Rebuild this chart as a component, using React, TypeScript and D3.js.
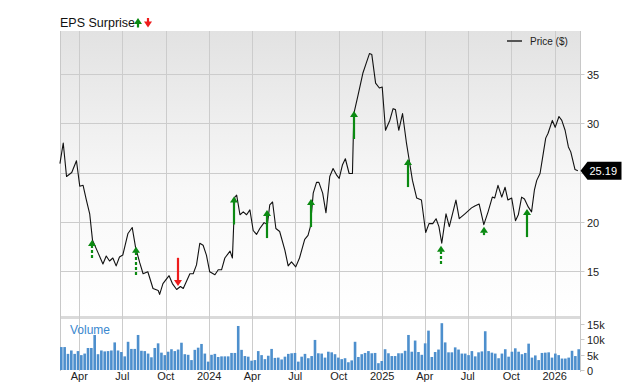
import React from "react";
import * as d3 from "d3";

const priceDates = [
  "2023-02-19","2023-02-26","2023-03-05","2023-03-16","2023-03-26","2023-04-02","2023-04-09","2023-04-16","2023-04-23","2023-04-29",
  "2023-05-11","2023-05-21","2023-05-28","2023-06-04","2023-06-11","2023-06-18","2023-06-25","2023-07-02","2023-07-13","2023-07-22",
  "2023-07-29","2023-08-07","2023-08-14","2023-08-24","2023-09-04","2023-09-15","2023-09-18","2023-09-25","2023-10-08","2023-10-15",
  "2023-10-24","2023-11-01","2023-11-07","2023-11-21","2023-11-28","2023-12-05","2023-12-12","2023-12-19","2023-12-26","2024-01-02",
  "2024-01-13","2024-01-20","2024-01-27","2024-02-03","2024-02-14","2024-02-19","2024-02-24","2024-02-28","2024-03-06","2024-03-13",
  "2024-03-20","2024-03-27","2024-04-03","2024-04-10","2024-04-17","2024-04-26","2024-05-03","2024-05-08","2024-05-14","2024-05-21",
  "2024-05-29","2024-06-09","2024-06-16","2024-06-23","2024-07-02","2024-07-10","2024-07-21","2024-07-28","2024-08-02","2024-08-08",
  "2024-08-15","2024-08-20","2024-08-28","2024-09-04","2024-09-12","2024-09-19","2024-09-27","2024-10-02","2024-10-09","2024-10-15",
  "2024-10-23","2024-10-30","2024-11-02","2024-11-11","2024-11-21","2024-11-28","2024-12-05","2024-12-10","2024-12-18","2024-12-26",
  "2025-01-01","2025-01-08","2025-01-17","2025-01-24","2025-01-29","2025-02-05","2025-02-13","2025-02-21","2025-02-27","2025-03-06",
  "2025-03-15","2025-03-25","2025-04-03","2025-04-10","2025-04-18","2025-04-25","2025-05-01","2025-05-07","2025-05-16","2025-05-23",
  "2025-06-06","2025-06-13","2025-06-25","2025-07-09","2025-07-16","2025-07-25","2025-08-04","2025-08-13","2025-08-22","2025-08-27",
  "2025-09-03","2025-09-11","2025-09-18","2025-09-24","2025-10-02","2025-10-10","2025-10-16","2025-10-23","2025-10-29","2025-11-06",
  "2025-11-13","2025-11-19","2025-11-24","2025-12-01","2025-12-08","2025-12-13","2025-12-18","2025-12-27","2026-01-02","2026-01-10",
  "2026-01-16","2026-01-23","2026-01-30","2026-02-04","2026-02-13","2026-02-19"
];
const priceValues = [
  25.9,28.0,24.6,25.0,26.2,23.6,23.7,22.2,20.8,18.1,
  16.8,15.7,16.5,16.0,16.3,15.5,16.4,16.6,18.8,19.4,
  17.4,15.8,14.7,14.9,13.2,13.0,12.6,13.7,14.5,13.7,
  13.1,13.4,13.2,14.7,14.7,15.6,17.8,17.6,16.6,14.9,
  14.6,15.1,15.1,16.3,17.0,16.3,22.5,22.7,20.7,21.0,
  20.7,21.2,19.1,18.7,19.3,19.9,19.7,21.7,22.0,19.3,
  19.0,17.1,15.5,15.9,15.4,16.3,18.2,18.6,19.5,22.9,
  24.0,24.0,22.9,20.9,24.6,25.4,24.7,24.4,25.8,26.4,
  24.9,24.9,31.0,32.9,35.1,36.1,37.1,37.0,34.1,33.6,
  33.7,29.3,30.3,31.5,31.4,29.3,31.0,28.1,26.3,24.2,
  22.4,22.2,18.9,19.8,19.8,20.3,19.5,17.8,20.8,19.5,
  22.2,20.3,20.8,21.4,21.6,21.8,19.7,21.0,22.5,22.4,
  23.7,22.5,23.5,22.2,22.4,20.1,20.7,22.5,22.3,21.5,
  21.0,23.2,24.2,24.9,27.0,28.5,29.0,30.3,29.6,30.7,
  30.3,29.3,27.6,27.1,25.3,25.19
];

// weekly volume, thousands
const volumeValues = [
  7.4,7.4,5.2,6.3,5.2,6.1,4.8,5.3,7.1,7.1,
  11.3,5.1,6.3,6.0,6.1,6.3,8.9,6.3,5.8,4.4,
  9.1,6.8,6.8,11.3,6.2,6.1,5.3,4.1,7.1,8.6,
  5.6,4.8,5.9,6.7,6.1,6.6,8.8,5.1,4.9,3.2,
  6.5,7.2,8.4,5.3,2.7,4.9,5.2,4.2,4.4,4.4,
  4.4,5.5,5.5,14.2,6.5,4.5,4.3,3.0,3.2,6.1,
  4.8,3.5,4.6,6.8,3.9,4.0,3.4,4.3,5.2,5.4,
  5.5,2.7,4.3,5.2,3.8,4.5,9.7,5.4,
  5.3,4.0,5.9,5.7,5.1,4.0,3.5,3.8,2.5,3.1,
  9.1,4.2,5.1,5.5,6.1,5.4,5.5,2.2,2.9,6.7,
  5.4,4.5,4.5,5.4,5.4,6.2,11.3,5.9,9.5,5.8,
  4.9,8.6,12.7,4.2,5.8,6.6,15.1,8.9,5.7,5.7,
  7.3,6.6,5.3,5.3,4.8,6.1,4.4,5.7,6.0,12.5,
  6.1,5.6,5.3,3.8,5.3,6.7,4.3,5.9,7.0,5.9,
  5.1,5.5,8.5,4.0,4.7,3.2,5.5,5.6,5.7,4.0,
  5.3,4.8,3.7,3.7,4.0,6.2,4.5,6.7
];

// EPS surprise arrows: date, base price, tip price, kind
const epsDates = ["2023-04-27","2023-07-29","2023-10-26","2024-02-23","2024-05-02","2024-08-03","2024-11-02","2025-02-24","2025-05-05","2025-08-04","2025-11-03"];
const epsFrom = [16.29,14.56,16.32,19.71,18.33,19.45,28.41,23.52,15.68,18.63,18.43];
const epsTo = [18.13,17.44,13.44,22.56,21.18,22.30,31.26,26.37,17.54,19.48,21.28];
const epsKind = ["beatDashed","beatDashed","miss","beat","beat","beat","beat","beat","beatDashed","beatDashed","beat"];

const xTickDates = ["2023-04-01","2023-07-01","2023-10-01","2024-01-01","2024-04-01","2024-07-01","2024-10-01","2025-01-01","2025-04-01","2025-07-01","2025-10-01","2026-01-01"];
const xTickLabels = ["Apr","Jul","Oct","2024","Apr","Jul","Oct","2025","Apr","Jul","Oct","2026"];
const priceTicks = [15, 20, 25, 30, 35];
const priceTickLabels = ["15", "20", "", "30", "35"];
const volumeTicks = [0, 5, 10, 15];
const volumeTickLabels = ["0", "5k", "10k", "15k"];
const lastPrice = 25.19;

const FONT = "'Liberation Sans', Arial, Helvetica, sans-serif";
const GREEN = "#0b8a12";
const RED = "#ee1c1c";

function Arrow({ x, y0, y1, color, dashed }: { x: number; y0: number; y1: number; color: string; dashed: boolean }) {
  const up = y1 < y0;
  const hh = 6;
  const hw = 4;
  const shaftEnd = up ? y1 + hh - 0.5 : y1 - hh + 0.5;
  return (
    <g>
      <line x1={x} x2={x} y1={y0} y2={shaftEnd} stroke={color} strokeWidth={2.2} strokeDasharray={dashed ? "3,2" : undefined} />
      <path d={up ? `M${x - hw},${y1 + hh}L${x},${y1}L${x + hw},${y1 + hh}Z` : `M${x - hw},${y1 - hh}L${x},${y1}L${x + hw},${y1 - hh}Z`} fill={color} />
    </g>
  );
}

export default function App() {
  const W = 640, H = 382;
  const left = 60.5, right = 580.5, top = 31, priceBottom = 316, volBottom = 370;
  const parse = d3.timeParse("%Y-%m-%d");
  const x = d3.scaleTime().domain([parse("2023-04-01")!, parse("2026-01-01")!]).range([79.3, 554.7]);
  const y = d3.scaleLinear().domain([10.4, 39.4]).range([priceBottom, top]);
  const yv = d3.scaleLinear().domain([0, 15]).range([volBottom, 323.5]);
  const xb = d3.scaleBand<number>().domain(volumeValues.map((_, i) => i)).range([60, 580]).paddingInner(0.22);

  const pts: [Date, number][] = priceDates.map((d, i) => [parse(d)!, priceValues[i]]);
  const line = d3.line<[Date, number]>().x((d) => x(d[0])).y((d) => y(d[1]));

  const ly = y(lastPrice);

  return (
    <svg width={W} height={H} style={{ position: "absolute", left: 0, top: 0, background: "#fff" }} fontFamily={FONT}>
      <defs>
        <linearGradient id="bg" x1="0" y1="0" x2="0" y2="1">
          <stop offset="0%" stopColor="#e2e2e2" />
          <stop offset="55%" stopColor="#f8f8f8" />
          <stop offset="100%" stopColor="#ffffff" />
        </linearGradient>
      </defs>
      <rect x={left} y={top} width={right - left} height={priceBottom - top} fill="url(#bg)" />
      <rect x={left} y={316} width={right - left} height={3} fill="#dadada" />

      {/* vertical grid */}
      {xTickDates.map((d, i) => {
        const xx = Math.round(x(parse(d)!)) + 0.5;
        return <line key={"vg" + i} x1={xx} x2={xx} y1={top} y2={volBottom + 1} stroke="#cccccc" strokeWidth={1} />;
      })}
      {/* horizontal price grid */}
      {priceTicks.map((t, i) => {
        const yy = Math.round(y(t)) + 0.5;
        return <line key={"hg" + i} x1={left} x2={right + 4} y1={yy} y2={yy} stroke="#cccccc" strokeWidth={1} />;
      })}
      {/* frame */}
      <line x1={left} x2={left} y1={top} y2={volBottom + 1} stroke="#c8c8c8" />
      <line x1={right} x2={right} y1={top} y2={volBottom + 2} stroke="#c8c8c8" />

      {/* volume */}
      {volumeValues.map((v, i) => (
        <rect key={"v" + i} x={xb(i)!} y={yv(v)} width={xb.bandwidth()} height={volBottom - yv(v)} fill="#4d8fcd" />
      ))}
      <text x={70} y={334} fontSize={12} fill="#3a88cf">Volume</text>
      {volumeTicks.map((t, i) => {
        const yy = Math.round(yv(t)) + 0.5;
        return (
          <g key={"vt" + i}>
            <line x1={right} x2={right + 4} y1={yy} y2={yy} stroke="#c8c8c8" />
            <text x={587} y={yy + 4} fontSize={11} fill="#222">{volumeTickLabels[i]}</text>
          </g>
        );
      })}

      {/* price line */}
      <path d={line(pts)!} fill="none" stroke="#111" strokeWidth={1.1} strokeLinejoin="round" />

      {/* EPS arrows */}
      {epsDates.map((d, i) => (
        <Arrow key={"a" + i} x={Math.round(x(parse(d)!))} y0={y(epsFrom[i])} y1={y(epsTo[i])}
          color={epsKind[i] === "miss" ? RED : GREEN} dashed={epsKind[i] === "beatDashed"} />
      ))}

      {/* price axis labels */}
      {priceTicks.map((t, i) => (
        <text key={"pt" + i} x={587} y={Math.round(y(t)) + 4.5} fontSize={11} fill="#222">{priceTickLabels[i]}</text>
      ))}

      {/* last price label */}
      <path d={`M${right},${ly}L${right + 7},${ly - 9}L${right + 41},${ly - 9}L${right + 41},${ly + 9}L${right + 7},${ly + 9}Z`} fill="#000" />
      <text x={right + 9} y={ly + 4} fontSize={11} fill="#fff">{lastPrice.toFixed(2)}</text>

      {/* x axis labels */}
      {xTickDates.map((d, i) => (
        <text key={"xt" + i} x={x(parse(d)!)} y={380} fontSize={11} fill="#222" textAnchor="middle">{xTickLabels[i]}</text>
      ))}

      {/* legend */}
      <line x1={507} x2={522} y1={41} y2={41} stroke="#555" strokeWidth={2} />
      <text x={530} y={44.5} fontSize={10} fill="#222">Price ($)</text>

      {/* title */}
      <text x={60} y={27} fontSize={12.5} fill="#111">EPS Surprise</text>
      <Arrow x={138} y0={27.5} y1={18} color={GREEN} dashed={false} />
      <Arrow x={148} y0={18} y1={27.5} color={RED} dashed={false} />
    </svg>
  );
}
